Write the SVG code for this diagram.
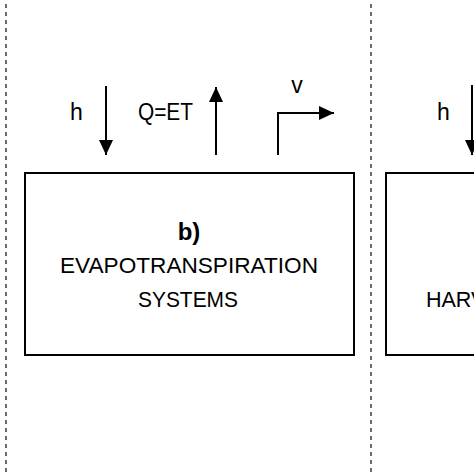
<svg xmlns="http://www.w3.org/2000/svg" width="474" height="474" viewBox="0 0 474 474">
<defs>
<style>
.box{fill:#fff;stroke:#000;stroke-width:2}
.dash{stroke:#444;stroke-width:1.6;stroke-dasharray:4 4;fill:none}
.conn{stroke:#000;stroke-width:2;fill:none}
.lbl{font-family:"Liberation Sans",Arial,sans-serif;font-size:23px;fill:#000}
.txt{font-family:"Liberation Sans",Arial,sans-serif;font-size:21.5px;fill:#000}
.bold{font-family:"Liberation Sans",Arial,sans-serif;font-size:24px;font-weight:bold;fill:#000}
</style>
<marker id="ah" markerUnits="userSpaceOnUse" markerWidth="16" markerHeight="16" refX="15" refY="7" orient="auto">
<path d="M0,0 L15,7 L0,14 Z" fill="#000"/>
</marker>
</defs>
<rect width="474" height="474" fill="#fff"/>
<g id="separators">
<line class="dash" x1="6" y1="4" x2="6" y2="474"/>
<line class="dash" x1="371" y1="4" x2="371" y2="474"/>
</g>
<g id="node-b">
<rect class="box" x="25" y="173" width="329" height="182"/>
<text class="bold" x="189" y="240" text-anchor="middle">b)</text>
<text class="txt" x="189" y="273" text-anchor="middle" textLength="258" lengthAdjust="spacingAndGlyphs">EVAPOTRANSPIRATION</text>
<text class="txt" x="188" y="307" text-anchor="middle" textLength="100" lengthAdjust="spacingAndGlyphs">SYSTEMS</text>
</g>
<g id="node-c">
<rect class="box" x="386" y="173" width="200" height="182"/>
<text class="txt" x="426" y="307">HARV</text>
</g>
<g id="connectors">
<line class="conn" x1="106" y1="86" x2="106" y2="155" marker-end="url(#ah)"/>
<line class="conn" x1="216" y1="155" x2="216" y2="87" marker-end="url(#ah)"/>
<polyline class="conn" points="278,155 278,113 334,113" marker-end="url(#ah)"/>
<line class="conn" x1="472" y1="85" x2="472" y2="155" marker-end="url(#ah)"/>
</g>
<g id="labels">
<text class="lbl" x="70" y="120">h</text>
<text class="lbl" x="138" y="120" textLength="55" lengthAdjust="spacingAndGlyphs">Q=ET</text>
<text class="lbl" x="297" y="93" text-anchor="middle">v</text>
<text class="lbl" x="437" y="120">h</text>
</g>
</svg>
